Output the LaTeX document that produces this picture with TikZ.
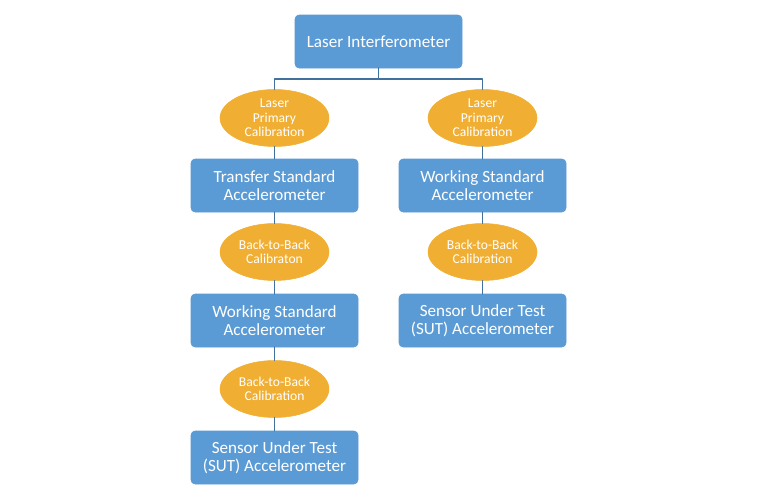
\documentclass[tikz,border=0pt]{standalone}
\usepackage{fontspec}
\setmainfont{Carlito}
\usepackage{tikz}
\usetikzlibrary{shapes.geometric}
\definecolor{boxblue}{HTML}{5B9BD5}
\definecolor{ovalgold}{HTML}{F0AE33}
\definecolor{linkblue}{HTML}{41719C}

\begin{document}
\begin{tikzpicture}[line cap=round,line join=round,x=0.75pt,y=-0.75pt,
  blk/.style={rectangle,rounded corners=3pt,fill=boxblue,draw=boxblue,text=white,
    minimum width=125.25pt,minimum height=39.75pt,inner sep=0pt,align=center,
    font=\fontsize{12.8}{13.6}\selectfont},
  elli/.style={ellipse,fill=ovalgold,draw=ovalgold,text=white,
    minimum width=81.75pt,minimum height=42.75pt,inner sep=0pt,align=center,
    font=\fontsize{10.2}{10.9}\selectfont},
  link/.style={draw=linkblue,line width=1.4pt}]
\useasboundingbox (0,0) rectangle (760,500);
% top
\node[blk] (li) at (378.5,41.5) {Laser Interferometer};
% left chain
\node[elli] (lpl) at (274.5,118) {Laser\\Primary\\Calibration};
\node[blk] (tsa) at (274.5,185.5) {Transfer Standard\\Accelerometer};
\node[elli] (bbl) at (274.5,252) {Back-to-Back\\Calibraton};
\node[blk] (wsl) at (274.5,320.5) {Working Standard\\Accelerometer};
\node[elli] (bbl2) at (274.5,389) {Back-to-Back\\Calibration};
\node[blk] (sutl) at (274.5,457.5) {Sensor Under Test\\(SUT) Accelerometer};
% right chain
\node[elli] (lpr) at (482.5,118) {Laser\\Primary\\Calibration};
\node[blk] (wsr) at (482.5,185.5) {Working Standard\\Accelerometer};
\node[elli] (bbr) at (482.5,252) {Back-to-Back\\Calibration};
\node[blk] (sutr) at (482.5,320.5) {Sensor Under Test\\(SUT) Accelerometer};
% connectors
\draw[link] (li.south) -- ++(0,11) -| (lpl.north);
\draw[link] (li.south) -- ++(0,11) -| (lpr.north);
\draw[link] (lpl) -- (tsa);
\draw[link] (tsa) -- (bbl);
\draw[link] (bbl) -- (wsl);
\draw[link] (wsl) -- (bbl2);
\draw[link] (bbl2) -- (sutl);
\draw[link] (lpr) -- (wsr);
\draw[link] (wsr) -- (bbr);
\draw[link] (bbr) -- (sutr);
\end{tikzpicture}
\end{document}
